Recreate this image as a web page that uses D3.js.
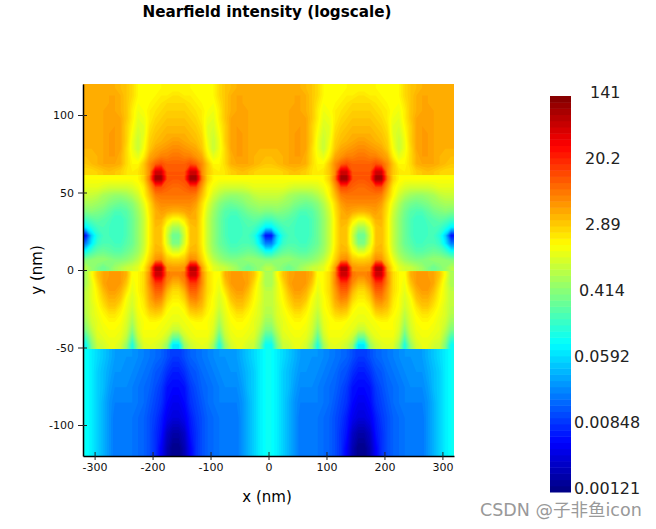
<!DOCTYPE html>
<html><head><meta charset="utf-8">
<script src="https://cdn.jsdelivr.net/npm/d3@7"></script>
<style>html,body{margin:0;background:#fff}svg{display:block}text{font-family:"DejaVu Sans",sans-serif}</style>
</head><body><svg id="c" width="656" height="529"></svg>
<script>
// Log-intensity, as % of the colour range (0 = 0.00121, 100 = 141).
// One half period of the structure: columns are distance from the x = -160 / +160 axis (nm).
const columnOffsets = [5,15,25,35,45,55,65,75,85,95,105,115,125,135,145,155];
const airAbove = [ // y 120..60
[63,63,63,62,62,62,63,66,68,69,70,70,70,70,70,70],
[65,64,64,63,62,62,63,66,68,70,71,71,70,70,70,70],
[66,66,65,64,63,62,62,65,68,70,71,71,70,70,70,70],
[67,67,66,65,64,62,61,64,68,70,71,71,71,70,70,70],
[68,68,67,66,64,61,60,64,68,71,72,71,71,70,70,70],
[69,69,68,67,65,60,59,63,67,71,72,71,71,70,70,70],
[70,70,69,68,66,60,58,62,67,71,72,72,71,70,70,70],
[72,71,70,69,67,61,57,61,67,71,72,72,71,70,70,70],
[74,73,72,71,68,62,57,61,66,71,72,72,71,70,70,70],
[76,75,75,73,71,64,60,62,66,70,72,72,71,70,69,69],
[78,78,80,78,74,68,63,63,66,70,71,71,71,70,69,68],
[79,79,92,92,74,68,65,64,65,67,68,69,68,67,66,66]];
const gratingLayer = [ // y 60..0
[79,80,96,96,76,67,63,62,62,62,62,62,62,62,62,62],
[77,78,80,80,72,64,61,59,58,58,58,58,59,60,60,60],
[76,76,76,75,69,63,58,55,53,52,52,53,54,56,57,57],
[74,74,74,72,66,60,55,51,49,48,49,50,52,53,54,54],
[70,71,72,70,65,58,53,49,46,45,45,47,49,50,51,50],
[62,65,70,70,64,57,52,48,45,43,43,45,46,47,46,44],
[54,60,68,69,64,57,52,48,45,43,43,44,45,44,41,36],
[48,58,68,69,64,57,52,48,45,43,43,44,44,41,33,14],
[50,59,68,69,64,57,52,48,46,44,44,45,45,43,36,25],
[59,63,70,70,65,58,53,50,48,46,46,47,48,47,44,39],
[67,68,74,73,67,61,56,53,51,50,50,51,52,52,51,50],
[72,73,94,94,72,64,60,58,57,55,53,50,48,50,52,55]];
const spacerLayer = [ // y 0..-50
[74,76,92,92,74,66,63,62,70,72,72,72,71,68,62,54],
[70,74,82,82,74,66,63,61,68,72,73,73,71,66,60,54],
[66,70,78,78,72,66,63,60,65,70,72,72,69,64,60,56],
[64,67,74,75,71,65,62,59,62,68,70,70,67,63,60,56],
[62,64,70,71,69,64,62,58,61,65,68,68,65,62,59,56],
[61,62,66,67,66,63,61,56,60,63,65,65,63,61,59,55],
[60,61,62,63,63,62,60,54,59,62,63,63,62,60,58,53],
[57,60,61,62,62,62,59,51,58,61,62,62,61,60,56,50],
[48,57,60,61,61,61,57,46,56,60,61,61,60,59,53,44],
[35,52,57,59,60,59,53,40,52,58,60,60,58,57,50,38]];
const substrate = [ // y -50..-120
[18,20,22,23,24,25,26,27,27,27,28,30,32,34,36,38],
[15,17,20,21,23,24,25,26,26,27,27,29,31,33,36,38],
[13,14,18,20,22,23,24,25,26,26,26,28,31,33,36,38],
[11,13,17,19,21,23,24,25,25,25,25,27,30,33,36,38],
[9,11,15,18,20,22,23,24,24,24,24,27,30,33,36,38],
[4,7,14,17,20,22,23,24,24,24,24,27,30,33,36,38],
[1,5,12,17,20,22,23,24,24,24,24,27,30,33,36,38]];
const layerBounds = [[61,120],[-1,61],[-51,-1],[-120,-51]];
const layers = [airAbove,gratingLayer,spacerLayer,substrate];
const xTicks = [-300,-200,-100,0,100,200,300];
const yTicks = [-100,-50,0,50,100];
const barLabels = ["141","20.2","2.89","0.414","0.0592","0.00848","0.00121"];
const barLabelX = [590,585,585,579,574,574,574];
const jetStops = ["#000080","#0000ff","#00ffff","#ffff00","#ff0000","#800000"];
const jetPos = [0,12.5,37.5,62.5,87.5,100];

const jet = d3.scaleLinear().domain(jetPos).range(jetStops);
const svg = d3.select("#c");
const x = d3.scaleLinear().domain([-320,320]).range([83,454]);
const y = d3.scaleLinear().domain([-120,120]).range([456,84]);
const defs = svg.append("defs");
const levels = d3.range(0,100,1);
const cellsX = d3.range(64).map(i=>-315+i*10);
const colOf = v=>{const m=((v+320)%320);return columnOffsets.indexOf(Math.abs(m-160));};

layers.forEach((rows,k)=>{
  const [lo,hi]=layerBounds[k];
  const ny=rows.length,nx=cellsX.length;
  const W=nx+2,H=ny+2;               // one repeated edge cell all round, clipped off below
  const values=new Array(W*H);
  for(let j=0;j<H;j++)for(let i=0;i<W;i++){
    const r=rows[Math.max(0,Math.min(ny-1,j-1))];
    values[j*W+i]=r[colOf(cellsX[Math.max(0,Math.min(nx-1,i-1))])];
  }
  const gx=d3.scaleLinear().domain([1,nx+1]).range([x(-320),x(320)]);
  const gy=d3.scaleLinear().domain([1,ny+1]).range([y(hi),y(lo)]);
  defs.append("clipPath").attr("id","layer"+k).append("rect")
    .attr("x",x(-320)).attr("y",y(hi)).attr("width",x(320)-x(-320)).attr("height",y(lo)-y(hi));
  const path=d3.geoPath(d3.geoTransform({point(a,b){this.stream.point(gx(a),gy(b));}}));
  svg.append("g").attr("clip-path",`url(#layer${k})`)
    .selectAll("path").data(d3.contours().size([W,H]).thresholds(levels)(values))
    .join("path").attr("d",path).attr("fill",d=>jet(d.value+0.5));
});

// axes
const xa=svg.append("g").attr("transform",`translate(0,${y(-120)})`)
  .call(d3.axisBottom(x).tickValues(xTicks).tickFormat(String).tickSize(4).tickSizeOuter(0));
const ya=svg.append("g").attr("transform",`translate(${x(-320)},0)`)
  .call(d3.axisLeft(y).tickValues(yTicks).tickFormat(String).tickSize(4).tickSizeOuter(0));
xa.selectAll(".tick line").attr("y1",-4).attr("y2",4);
ya.selectAll(".tick line").attr("x1",4).attr("x2",-5);
[xa,ya].forEach(a=>{a.selectAll("text").attr("font-size",11).attr("font-family","DejaVu Sans").attr("fill","#111");
  a.select(".domain").attr("stroke","#000").attr("stroke-width",1.5);
  a.selectAll(".tick line").attr("stroke","#222");});
xa.selectAll("text").attr("y",7);
ya.selectAll("text").attr("x",-9);

svg.append("text").attr("x",267).attr("y",17).attr("text-anchor","middle").attr("font-size",15.2).attr("font-weight","bold").text("Nearfield intensity (logscale)");
svg.append("text").attr("x",267).attr("y",502).attr("text-anchor","middle").attr("font-size",15).text("x (nm)");
svg.append("text").attr("transform","translate(42,270) rotate(-90)").attr("text-anchor","middle").attr("font-size",15).text("y (nm)");

// colour bar
const bar=d3.scaleLinear().domain([0,64]).range([492,96]);
svg.append("g").selectAll("rect").data(d3.range(64)).join("rect")
  .attr("x",550).attr("width",21).attr("y",d=>bar(d+1)).attr("height",d=>bar(d)-bar(d+1)+0.5)
  .attr("fill",d=>jet((d+0.5)/64*100));
svg.append("g").selectAll("text").data(barLabels).join("text")
  .attr("x",(d,i)=>barLabelX[i]).attr("y",(d,i)=>98+i*66).attr("font-size",16).attr("fill","#222").text(d=>d);
svg.append("text").attr("x",480).attr("y",516).attr("font-size",17.5).attr("fill","#999")
  .attr("style",'font-family:"DejaVu Sans","Noto Sans CJK SC",sans-serif').text("CSDN @子非鱼icon");
</script></body></html>
